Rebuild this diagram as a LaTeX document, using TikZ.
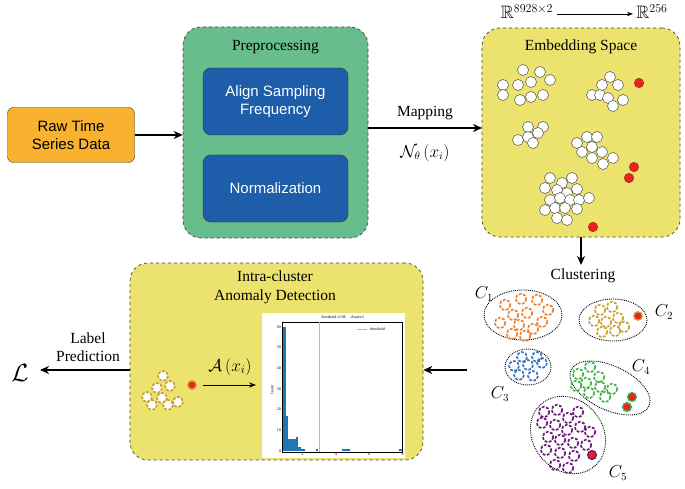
\documentclass[tikz,border=0pt]{standalone}
\usepackage{fontspec}
\setmainfont{Liberation Serif}
\newfontfamily\sansf{Liberation Sans}
\usepackage{amsmath,amssymb}
\usetikzlibrary{arrows.meta}
\definecolor{orng}{HTML}{F8B230}
\definecolor{grn}{HTML}{67BD8C}
\definecolor{blu}{HTML}{1D5DAA}
\definecolor{yel}{HTML}{ECE36E}
\definecolor{c1}{HTML}{F08030}
\definecolor{c2}{HTML}{C9A232}
\definecolor{c3}{HTML}{3870C4}
\definecolor{c4}{HTML}{3FB447}
\definecolor{c5}{HTML}{6A1A78}
\definecolor{redd}{HTML}{E8231F}
\definecolor{barb}{HTML}{1F77B4}
\begin{document}
\begin{tikzpicture}[x=1pt,y=-1pt,
  panel/.style={draw=black!75,dashed,rounded corners=18pt,line width=0.7pt},
  inner/.style={draw=black!80,fill=blu,rounded corners=8pt,text=white,font=\sansf\fontsize{15}{18}\selectfont,align=center},
  title/.style={font=\fontsize{15.5}{18}\selectfont,align=center},
  arr/.style={-{Stealth[length=9pt,width=8pt]},line width=1.8pt},
  wc/.style={draw=black!70,fill=white,line width=0.5pt},
  rd/.style={fill=redd,draw=redd!60!black,line width=0.3pt},
  dc/.style={draw=#1,line width=1.7pt,dash pattern=on 2.8pt off 1.6pt},
  ell/.style={draw=black,densely dotted,line width=0.9pt},
  ck/.style={font=\fontsize{16}{16}\selectfont}]
\useasboundingbox (0,0) rectangle (685,489);
% raw
\node[draw=black!80,fill=orng,rounded corners=6pt,minimum width=127pt,minimum height=55pt,align=center,font=\sansf\fontsize{15}{18}\selectfont] (raw) at (71,135) {Raw Time\\Series Data};
% preprocessing
\node[panel,fill=grn,minimum width=185pt,minimum height=211pt] (pre) at (275.5,132.5) {};
\node[title] (pret) at (275.5,47) {Preprocessing};
\node[inner,minimum width=145pt,minimum height=67pt] (align) at (275.5,101.5) {Align Sampling\\Frequency};
\node[inner,minimum width=145pt,minimum height=67pt] (norm) at (275.5,188.5) {Normalization};
% embedding
\node[panel,fill=yel,minimum width=198pt,minimum height=209pt] (emb) at (581,132.5) {};
\node[title] (embt) at (581,47) {Embedding Space};
\node[font=\fontsize{18}{18}\selectfont] (r1) at (527,12) {$\mathbb{R}^{8928\times 2}$};
\node[font=\fontsize{18}{18}\selectfont] (r2) at (652,12) {$\mathbb{R}^{256}$};
\draw[-{Stealth[length=6pt]},line width=0.8pt] (r1.east|-0,14) -- (r2.west|-0,14);
\draw[arr] (raw.east) -- (pre.west|-raw.east);
\coordinate (m1) at (368,128); \coordinate (m2) at (482,128);
\draw[arr] (m1) -- (m2);
\node[title] (mapl) at (425,113) {Mapping};
\node[font=\fontsize{16}{18}\selectfont] (mapn) at (425,153) {$\mathcal{N}_\theta\left(x_i\right)$};
\foreach \p in {(503,85),(523,70),(540,72),(550,80),(518,85),(531,82),(503,95),(520,100),(531,97),(543,95),
 (592,95),(600,95),(608,98),(602,85),(610,77),(618,85),(613,106),(623,100),
 (528,127),(543,127),(518,140),(528,137),(538,133),(533,143),
 (577,143),(587,137),(597,137),(592,147),(582,152),(602,152),(592,158),(613,158),(603,164),
 (550,178),(562,183),(572,178),(545,188),(557,190),(567,193),(577,189),(550,200),(560,198),(570,200),(579,200),(589,198),(545,210),(555,208),(565,208),(577,209),(557,218),(567,220)}
 \draw[wc] \p circle (5.5);
\foreach \p in {(639,83),(634,167),(629,178),(593,227)} \fill[rd] \p circle (4.8);
% clustering
\coordinate (cl1) at (581,237); \coordinate (cl2) at (581,265);
\draw[arr] (cl1) -- (cl2);
\node[title] (clt) at (583,276) {Clustering};
\draw[ell] (523,315) ellipse [x radius=39,y radius=25];
\draw[ell] (613,320) ellipse [x radius=34,y radius=21];
\draw[ell] (528,367) ellipse [x radius=23,y radius=18];
\draw[ell,rotate around={-25:(610,388)}] (610,388) ellipse [x radius=43,y radius=22];
\draw[ell,rotate around={-50:(568,435)}] (568,435) ellipse [x radius=41,y radius=35];
\foreach \p in {(505,305),(521,299),(537,300),(548,310),(513,315),(527,313),(500,323),(519,325),(533,329),(542,322),(512,334),(525,336)} \draw[dc=c1] \p circle (5.3);
\foreach \p in {(600,310),(612,307),(594,321),(606,322),(618,318),(602,332),(615,331),(624,327)} \draw[dc=c2] \p circle (5.3);
\fill[rd,draw=c2,line width=1.3pt] (638,316) circle (4.2);
\foreach \p in {(522,357),(537,357),(514,366),(528,365),(542,363),(519,375),(533,376)} \draw[dc=c3] \p circle (5);
\foreach \p in {(578,374),(590,367),(599,377),(586,383),(600,387),(589,393),(612,389),(605,397),(576,386)} \draw[dc=c4] \p circle (5.3);
\fill[rd,draw=c4,line width=1.3pt] (632,397) circle (4.4);
\fill[rd,draw=c4,line width=1.3pt] (627,407) circle (4.4);
\foreach \p in {(544,412),(557,410),(568,418),(578,412),(542,423),(555,425),(567,430),(580,427),(590,432),(548,437),(560,440),(573,443),(586,445),(546,450),(560,453),(574,456),(555,465),(568,468)} \draw[dc=c5] \p circle (5.3);
\fill[rd,draw=c5,line width=1.3pt] (592,455) circle (4.4);
\node[ck] (k1) at (484,294) {$C_1$};
\node[ck] (k2) at (664,312) {$C_2$};
\node[ck] (k3) at (500,394) {$C_3$};
\node[ck] (k4) at (641,367) {$C_4$};
\node[ck] (k5) at (618,473) {$C_5$};
% intra-cluster
\node[panel,fill=yel,minimum width=293pt,minimum height=197pt] (ano) at (276.5,361.5) {};
\coordinate (ca) at (467,370);
\draw[arr] (ca) -- (ano.east|-ca);
\node[title,font=\fontsize{15.5}{19}\selectfont] (anot) at (275,287) {Intra-cluster\\Anomaly Detection};
\foreach \p in {(147,397),(157,388),(163,376),(170,386),(152,405),(162,398),(168,405),(178,402)} \draw[wc,draw=c2,line width=1.7pt,dash pattern=on 2.8pt off 1.6pt] \p circle (5);
\fill[rd,draw=c2,line width=1.3pt] (192,385) circle (4.2);
\coordinate (a1) at (203,385); \coordinate (a2) at (256,385);
\draw[-{Stealth[length=7pt]},line width=1pt] (a1) -- (a2);
\node[font=\fontsize{17}{17}\selectfont] (al) at (230,367) {$\mathcal{A}\left(x_i\right)$};
% histogram
\node[fill=white,minimum width=143pt,minimum height=145pt,inner sep=0] (hist) at (333.5,385.5) {};
\begin{scope}[font=\fontsize{4}{4.5}\selectfont]
\draw[line width=0.3pt] (282,322) rectangle (402,452);
\draw[red!40,line width=0.4pt] (319.6,322) -- (319.6,452);
\foreach \b/\h in {0.85/60,1.0/17,1.15/6,1.3/6,1.45/6,1.6/7,1.75/2} \fill[barb] (269+16.7*\b,451) rectangle (269+16.7*\b+2.4,451-2.07*\h);
\foreach \b in {1.85,2.0,2.8,4.4,4.55,4.7,7.8} \fill[barb] (269+16.7*\b,451) rectangle (269+16.7*\b+2.4,449);
\foreach \v in {0,10,...,60} \node[anchor=east,inner sep=1pt] at (282,451-2.07*\v) {\v};
\foreach \v in {2,4,6,8} \node[anchor=north,inner sep=1pt] at (269+16.7*\v,452) {\v};
\node[rotate=90] at (272,390) {Count};
\node at (343,317) {threshold=2.98 \quad cluster:5};
\draw[red!40,line width=0.4pt] (357,329) -- (367,329);
\node[anchor=west,inner sep=1pt] at (369,329) {threshold};
\end{scope}
% label prediction
\coordinate (lp) at (40,370);
\draw[arr] (ano.west|-lp) -- (lp);
\node[title] (lpt) at (88,347) {Label\\Prediction};
\node[font=\fontsize{24}{24}\selectfont] (L) at (20,373) {$\mathcal{L}$};
\end{tikzpicture}
\end{document}
